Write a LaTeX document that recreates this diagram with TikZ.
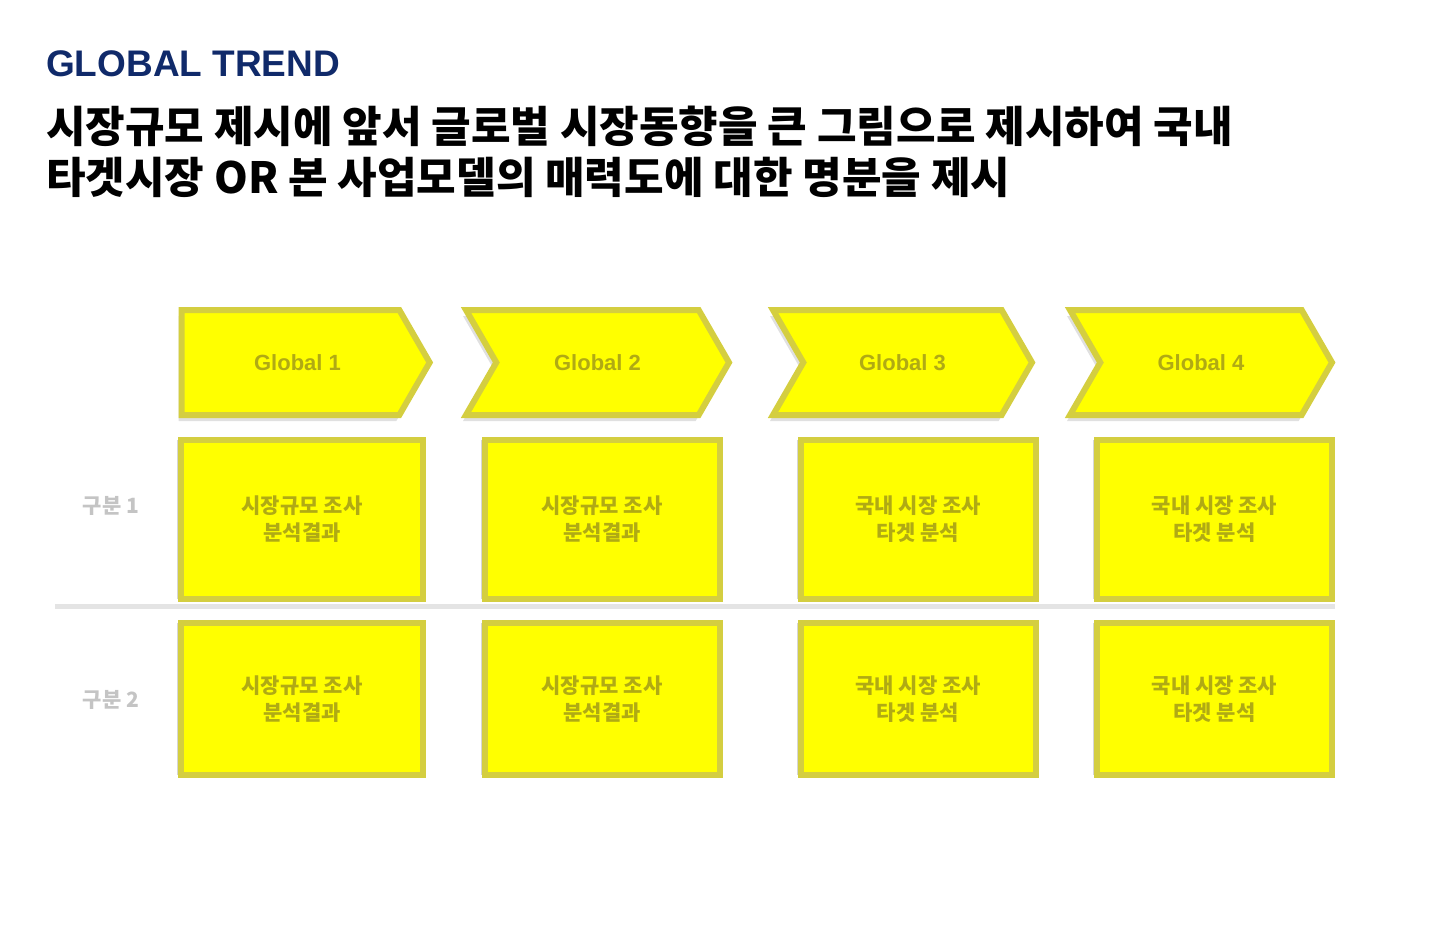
\documentclass[tikz,border=0pt]{standalone}
\usepackage{fontspec}
\setmainfont{Liberation Sans}
\newfontfamily\cjk{Noto Sans CJK KR}
\usetikzlibrary{shapes.symbols, positioning, shadows}
\definecolor{trendnavy}{RGB}{16,42,106}
\definecolor{stepyellow}{RGB}{255,255,0}
\definecolor{stepedge}{RGB}{212,206,64}
\definecolor{steptext}{RGB}{176,170,20}
\definecolor{sidegray}{RGB}{196,196,196}
\definecolor{rulegray}{RGB}{228,228,228}

\begin{document}
\begin{tikzpicture}[x=1pt, y=-1pt]
			\tikzset{chev/.style={signal, signal to=east, signal pointer angle=120, draw=stepedge, fill=stepyellow, line width=6pt, minimum height=105pt, inner sep=0pt, text=steptext, font=\bfseries\fontsize{22}{24}\selectfont, drop shadow={shadow xshift=-3pt, shadow yshift=-6pt, fill=black!12, opacity=1}},
				cell/.style={rectangle, draw=stepedge, fill=stepyellow, line width=6pt, minimum width=235pt, align=center, text=steptext, font=\cjk\bfseries\fontsize{21}{27}\selectfont, drop shadow={shadow xshift=-4pt, shadow yshift=0pt, fill=black!16, opacity=1}},
				side/.style={text=sidegray, font=\cjk\bfseries\fontsize{21}{24}\selectfont}}
			
			\useasboundingbox (0,0) rectangle (1430,943);
			
			\node[anchor=base west, text=trendnavy, font=\bfseries\fontsize{37}{42}\selectfont, inner sep=0pt] (trend) at (46,76) {GLOBAL TREND};
			\node[anchor=base west, font=\cjk\bfseries\fontsize{43}{50}\selectfont, inner sep=0pt] (headA) at (46,142) {시장규모 제시에 앞서 글로벌 시장동향을 큰 그림으로 제시하여 국내};
			\node[anchor=base west, font=\cjk\bfseries\fontsize{43}{50}\selectfont, inner sep=0pt] (headB) at (46,193) {타겟시장 OR 본 사업모델의 매력도에 대한 명분을 제시};
			
			\node[chev, signal from=nowhere, minimum width=248pt] (g1) at (290.5,362.5) {\hspace*{14pt}Global 1};
			\node[chev, signal from=west, minimum width=263pt] (g2) at (597.5,362.5) {Global 2};
			\node[chev, signal from=west, minimum width=259pt] (g3) at (902.5,362.5) {Global 3};
			\node[chev, signal from=west, minimum width=262pt] (g4) at (1201,362.5) {Global 4};
			
			\coordinate (ruleL) at (55,606);
			\coordinate (ruleR) at (1335,606);
			\draw[rulegray, line width=5pt] (ruleL) -- (ruleR);
			
			\node[cell, minimum width=242pt, minimum height=159pt] (c11) at (302,519.5) {시장규모 조사\\분석결과};
			\node[cell, minimum height=159pt] (c12) at (602,519.5) {시장규모 조사\\분석결과};
			\node[cell, minimum height=159pt] (c13) at (918,519.5) {국내 시장 조사\\타겟 분석};
			\node[cell, minimum height=159pt] (c14) at (1214.5,519.5) {국내 시장 조사\\타겟 분석};
			
			\node[cell, minimum width=242pt, minimum height=152pt, below=18pt of c11] (c21) {시장규모 조사\\분석결과};
			\node[cell, minimum height=152pt, below=18pt of c12] (c22) {시장규모 조사\\분석결과};
			\node[cell, minimum height=152pt, below=18pt of c13] (c23) {국내 시장 조사\\타겟 분석};
			\node[cell, minimum height=152pt, below=18pt of c14] (c24) {국내 시장 조사\\타겟 분석};
			
			\node[side] (row1) at (111,506) {구분 1};
			\node[side] (row2) at (111,700) {구분 2};
		\end{tikzpicture}
\end{document}
